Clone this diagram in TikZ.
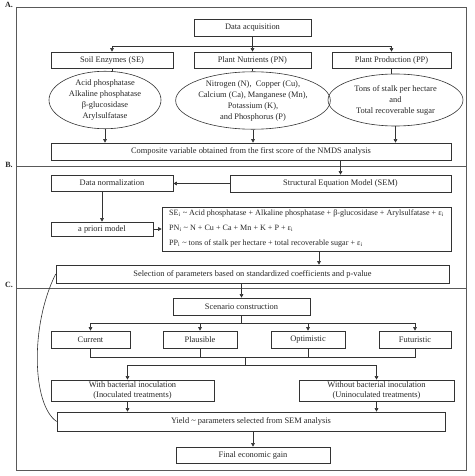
\documentclass[tikz,border=0pt]{standalone}
\usepackage{fontspec}
\setmainfont{Liberation Serif}
\usetikzlibrary{shapes.geometric,arrows.meta,calc}
\begin{document}
\begin{tikzpicture}[x=1pt,y=-1pt,
  every node/.style={font=\fontsize{8.4}{11}\selectfont, text=black!85},
  box/.style={draw=black!80, line width=0.6pt, rectangle, inner sep=1pt, align=center},
  oval/.style={draw=black!80, line width=0.6pt, ellipse, inner sep=0pt, align=center},
  conn/.style={draw=black!80, line width=0.6pt},
  arr/.style={conn, -{Triangle[width=3.6pt,length=3.6pt]}},
  frame/.style={draw=black!65, line width=0.8pt},
  seclabel/.style={font=\fontsize{8}{9}\selectfont\bfseries, text=black!85}
]
\useasboundingbox (0,0) rectangle (474,476);
% frame and sections
\draw[frame] (16,7) rectangle (466,470);
\coordinate (bl) at (16,166); \coordinate (br) at (466,166);
\coordinate (cl) at (16,288); \coordinate (cr) at (466,288);
\draw[frame] (bl) -- (br);
\draw[frame] (cl) -- (cr);
\node[seclabel] (la) at (9,5) {A.};
\node[seclabel] (lb) at (9,165) {B.};
\node[seclabel] (lc) at (9,285) {C.};

% section A
\node[box, minimum width=117pt, minimum height=17pt] (da) at (252.5,27.5) {Data acquisition};
\node[box, minimum width=122pt, minimum height=16pt] (se) at (112,60) {Soil Enzymes (SE)};
\node[box, minimum width=117pt, minimum height=16pt] (pn) at (252.5,60) {Plant Nutrients (PN)};
\node[box, minimum width=119pt, minimum height=16pt] (pp) at (391.5,60) {Plant Production (PP)};
\node[oval, minimum width=112pt, minimum height=52pt] (e1) at (105,100) {Acid phosphatase\\Alkaline phosphatase\\β-glucosidase\\Arylsulfatase};
\node[oval, minimum width=122pt, minimum height=53pt] (e2) at (253,100.5) {Nitrogen (N),\enspace Copper (Cu),\\Calcium (Ca), Manganese (Mn),\\Potassium (K),\\and Phosphorus (P)};
\node[oval, minimum width=135pt, minimum height=52pt] (e3) at (395.5,100) {Tons of stalk per hectare\\and\\Total recoverable sugar};
\node[box, minimum width=400pt, minimum height=17pt] (comp) at (251,151.5) {Composite variable obtained from the first score of the NMDS analysis};

\coordinate (j1) at (252.5,46);
\draw[conn] (da) -- (j1);
\draw[arr] (j1) -| (se);
\draw[arr] (j1) -- (pn);
\draw[arr] (j1) -| (pp);
\draw[conn] (se.south) -- (se.south |- e1.north);
\draw[conn] (pn.south) -- (pn.south |- e2.north);
\draw[conn] (pp.south) -- (pp.south |- e3.north);
\draw[arr] (e1.south) -- (e1.south |- comp.north);
\draw[arr] (e2.south) -- (e2.south |- comp.north);
\draw[arr] (e3.south) -- (e3.south |- comp.north);

% section B
\node[box, minimum width=221pt, minimum height=17pt] (sem) at (340.5,183.5) {Structural Equation Model (SEM)};
\node[box, minimum width=122pt, minimum height=16pt] (dn) at (112,183) {Data normalization};
\node[box, minimum width=102pt, minimum height=14pt] (apm) at (102,229) {a priori model};
\node[box, minimum width=289pt, minimum height=44pt, align=left, inner sep=1.5pt,
      font=\fontsize{8.1}{15}\selectfont] (eq) at (306.5,229)
  {SE\textsubscript{i} \textasciitilde\ Acid phosphatase + Alkaline phosphatase + β-glucosidase + Arylsulfatase + ε\textsubscript{i}\\
   PN\textsubscript{i} \textasciitilde\ N + Cu + Ca + Mn + K + P + ε\textsubscript{i}\\
   PP\textsubscript{i} \textasciitilde\ tons of stalk per hectare + total recoverable sugar + ε\textsubscript{i}};
\node[box, minimum width=393pt, minimum height=18pt] (sel) at (252.5,274) {Selection of parameters based on standardized coefficients and p-value};

\draw[arr] (sem.north |- comp.south) -- (sem.north);
\draw[arr] (sem.west) -- (sem.west -| dn.east);
\draw[arr] (apm.north |- dn.south) -- (apm.north);
\draw[arr] (apm.east) -- (apm.east -| eq.west);
\draw[arr] ([xshift=12.5pt]eq.south) -- ([xshift=12.5pt]eq.south |- sel.north);

% section C
\node[box, minimum width=137pt, minimum height=17pt] (sc) at (241.5,306.5) {Scenario construction};
\node[box, minimum width=79pt, minimum height=17pt] (cur) at (90.5,339.5) {Current};
\node[box, minimum width=74pt, minimum height=17pt] (pla) at (200,339.5) {Plausible};
\node[box, minimum width=74pt, minimum height=17pt] (opt) at (308,339.5) {Optimistic};
\node[box, minimum width=72pt, minimum height=17pt] (fut) at (415,339.5) {Futuristic};
\node[box, minimum width=163pt, minimum height=21pt, font=\fontsize{8.4}{9.5}\selectfont] (wb) at (132.5,390.5) {With bacterial inoculation\\(Inoculated treatments)};
\node[box, minimum width=155pt, minimum height=21pt, font=\fontsize{8.4}{9.5}\selectfont] (wob) at (376.5,390.5) {Without bacterial inoculation\\(Uninoculated treatments)};
\node[box, minimum width=388pt, minimum height=19pt] (yld) at (251,421.5) {Yield \textasciitilde\ parameters selected from SEM analysis};
\node[box, minimum width=154pt, minimum height=16pt] (fin) at (253,455) {Final economic gain};

\draw[arr] (sc.north |- sel.south) -- (sc.north);
\coordinate (j2) at (241.5,323);
\draw[conn] (sc) -- (j2);
\draw[arr] (j2) -| (cur);
\draw[arr] (j2) -| (pla);
\draw[arr] (j2) -| (opt);
\draw[arr] (j2) -| (fut);
\coordinate (j3) at (245,357);
\coordinate (j4) at (245,365);
\draw[conn] (cur.south) -- (cur.south |- j3) -- (fut.south |- j3) -- (fut.south);
\draw[conn] (pla.south) -- (pla.south |- j3);
\draw[conn] (opt.south) -- (opt.south |- j3);
\draw[conn] (j3) -- (j4);
\draw[arr] (j4) -| ([xshift=-5pt]wb.north);
\draw[arr] (j4) -| (wob);
\draw[arr] ([xshift=-5pt]wb.south) -- ([xshift=-5pt]wb.south |- yld.north);
\draw[arr] (wob.south) -- (wob.south |- yld.north);
\draw[arr] (yld.south -| fin.north) -- (fin.north);
\draw[conn] (sel.west) .. controls (30,325) and (32,405) .. (yld.west);
\end{tikzpicture}
\end{document}
